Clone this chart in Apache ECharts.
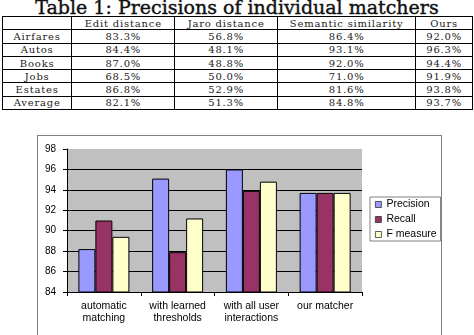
<!DOCTYPE html>
<html>
<head>
<meta charset="utf-8">
<script src="https://cdn.jsdelivr.net/npm/echarts@6/dist/echarts.min.js"></script>
<style>
  html, body { margin: 0; padding: 0; background: #fff; }
  body { width: 474px; height: 335px; overflow: hidden; position: relative; }
  #title {
    position: absolute; left: 0; top: -3px; width: 474px; text-align: center;
    font-family: "DejaVu Serif", serif; font-size: 19px; line-height: 20px; color: #111;
    white-space: nowrap; -webkit-text-stroke: 0.4px #111;
  }
  #tbl {
    position: absolute; left: 2px; top: 16px; width: 470px;
    border-collapse: collapse; table-layout: fixed;
    border: 1.5px solid #000;
    font-family: "DejaVu Serif", serif; font-size: 10px; color: #222;
    letter-spacing: 0.8px;
  }
  #tbl td { border: 1px solid #000; text-align: center; padding: 0; height: 12.3px; line-height: 11px; white-space: nowrap; overflow: hidden; }
  #chartBox {
    position: absolute; left: 37px; top: 135px; width: 405px; height: 215px;
    border: 1px solid #808080; box-sizing: border-box; background: #fff;
  }
  #chart { width: 403px; height: 213px; }
</style>
</head>
<body>
<div id="title">Table 1: Precisions of individual matchers</div>
<table id="tbl"></table>
<div id="chartBox"><div id="chart"></div></div>
<script>
// Table: precision of each individual matcher per domain
const tableTitle = 'Table 1: Precisions of individual matchers';
const matcherNames = ['Edit distance', 'Jaro distance', 'Semantic similarity', 'Ours'];
const domains = ['Airfares', 'Autos', 'Books', 'Jobs', 'Estates', 'Average'];
const editDistance = [83.3, 84.4, 87.0, 68.5, 86.8, 82.1];
const jaroDistance = [56.8, 48.1, 48.8, 50.0, 52.9, 51.3];
const semanticSimilarity = [86.4, 93.1, 92.0, 71.0, 81.6, 84.8];
const ours = [92.0, 96.3, 94.4, 91.9, 93.8, 93.7];

// Bar chart: matching quality under different settings
const settings = ['automatic\nmatching', 'with learned\nthresholds', 'with all user\ninteractions', 'our matcher'];
const precision = [88.2, 95.1, 96.0, 93.7];
const recall = [91.0, 87.9, 93.9, 93.7];
const fMeasure = [89.4, 91.2, 94.8, 93.7];
const yTicks = { min: 84, max: 98, interval: 2 };

document.getElementById('title').textContent = tableTitle;

// build the table
(function buildTable() {
  const colWidths = [69.3, 103, 102.7, 138.3, 56.7];
  const tbl = document.getElementById('tbl');
  const cg = document.createElement('colgroup');
  colWidths.forEach(w => { const c = document.createElement('col'); c.style.width = w + 'px'; cg.appendChild(c); });
  tbl.appendChild(cg);
  const head = document.createElement('tr');
  ['', ...matcherNames].forEach(t => { const td = document.createElement('td'); td.textContent = t; head.appendChild(td); });
  tbl.appendChild(head);
  const cols = [editDistance, jaroDistance, semanticSimilarity, ours];
  domains.forEach((d, i) => {
    const tr = document.createElement('tr');
    const first = document.createElement('td'); first.textContent = d; tr.appendChild(first);
    cols.forEach(col => { const td = document.createElement('td'); td.textContent = col[i].toFixed(1) + '%'; tr.appendChild(td); });
    tbl.appendChild(tr);
  });
})();

const chart = echarts.init(document.getElementById('chart'), null, { renderer: 'canvas' });
const font = 'Liberation Sans, Arial, sans-serif';
const barStyle = (color) => ({ color: color, borderColor: '#000', borderWidth: 1 });

chart.setOption({
  animation: false,
  textStyle: { fontFamily: font },
  grid: {
    left: 29, top: 13, width: 295, height: 143,
    show: true, backgroundColor: '#c0c0c0', borderWidth: 0
  },
  legend: {
    orient: 'vertical', left: 332, top: 61,
    padding: [2, 4, 1, 5], itemGap: 4, itemWidth: 6, itemHeight: 6, itemTextGap: 2,
    borderColor: '#808080', borderWidth: 1, backgroundColor: '#fff',
    icon: 'rect',
    itemStyle: { borderColor: '#333', borderWidth: 0.8 },
    textStyle: { fontFamily: font, fontSize: 10.5, color: '#000' },
    data: ['Precision', 'Recall', 'F measure']
  },
  xAxis: {
    type: 'category', data: settings,
    axisLine: { show: true, lineStyle: { color: '#000', width: 1 } },
    axisTick: { show: true, length: 4, inside: false, lineStyle: { color: '#000' } },
    axisLabel: { color: '#000', fontSize: 10.5, lineHeight: 12, margin: 8, fontFamily: font, interval: 0 }
  },
  yAxis: {
    type: 'value', min: yTicks.min, max: yTicks.max, interval: yTicks.interval,
    axisLine: { show: true, lineStyle: { color: '#000', width: 1 } },
    axisTick: { show: true, length: 4, lineStyle: { color: '#000' } },
    axisLabel: { color: '#000', fontSize: 10, margin: 11, fontFamily: font },
    splitLine: { show: true, showMaxLine: false, lineStyle: { color: '#000', width: 1 } }
  },
  series: [
    { name: 'Precision', type: 'bar', data: precision, barWidth: 17, barGap: '0%', itemStyle: barStyle('#9999ff') },
    { name: 'Recall', type: 'bar', data: recall, barWidth: 17, barGap: '0%', itemStyle: barStyle('#993366') },
    { name: 'F measure', type: 'bar', data: fMeasure, barWidth: 17, barGap: '0%', itemStyle: barStyle('#ffffcc') }
  ]
});
</script>
</body>
</html>
